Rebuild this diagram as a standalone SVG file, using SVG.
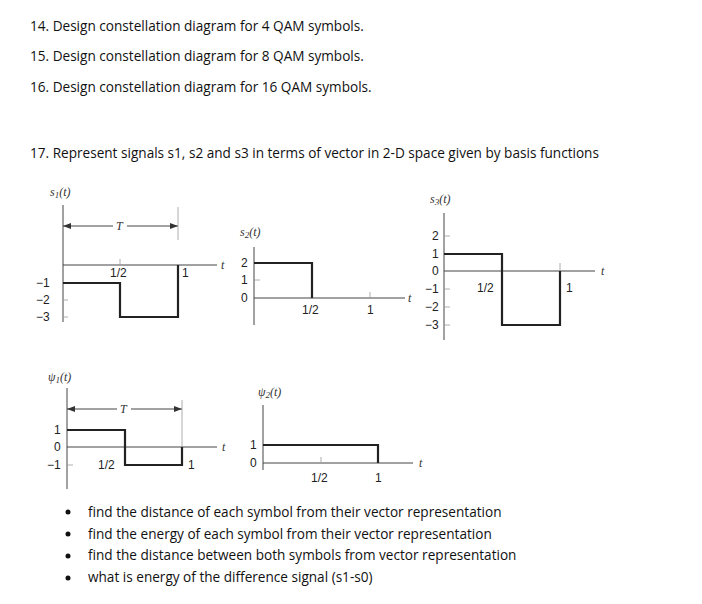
<svg xmlns="http://www.w3.org/2000/svg" width="702" height="604" viewBox="0 0 702 604">
<style>
.t{font-family:"Open Sans","Liberation Sans",sans-serif;font-size:13.6px;fill:#111}
.n{font-family:"Liberation Sans",sans-serif;font-size:12px;fill:#222}
.i{font-family:"Liberation Serif",serif;font-size:12px;font-style:italic;fill:#333}
.ax{stroke:#444;stroke-width:1;fill:none}
.tk{stroke:#999;stroke-width:0.8}
.w{stroke:#222;stroke-width:2.2;fill:none}
</style>
<defs><marker id="a" markerWidth="8" markerHeight="6" refX="8" refY="3" orient="auto-start-reverse"><path d="M0,0L8,3L0,6z" fill="#333"/></marker></defs>
<rect width="702" height="604" fill="#fff"/>
<g id="questions">
<text class="t" x="30" y="31">14. Design constellation diagram for 4 QAM symbols.</text>
<text class="t" x="30" y="61">15. Design constellation diagram for 8 QAM symbols.</text>
<text class="t" x="30" y="92">16. Design constellation diagram for 16 QAM symbols.</text>
<text class="t" x="30" y="158">17. Represent signals s1, s2 and s3 in terms of vector in 2-D space given by basis functions</text>
</g>
<g id="s1">
<text class="i" x="50" y="196">s<tspan font-size="9" dy="2">1</tspan><tspan dy="-2">(t)</tspan></text>
<path class="ax" d="M63,205V322M63,265H217"/>
<path class="ax" d="M63,226H178" marker-start="url(#a)" marker-end="url(#a)"/>
<rect x="113" y="218" width="14" height="12" fill="#fff"/>
<text class="i" x="116" y="230">T</text>
<path class="tk" d="M178,207V240M120,259V265M63,300H68M63,317H68"/>
<path class="w" d="M63,283H120V317H178V265"/>
<text class="n" x="110" y="277">1/2</text><text class="n" x="182" y="277">1</text>
<text class="n" x="36" y="287">−1</text><text class="n" x="36" y="304">−2</text><text class="n" x="36" y="321">−3</text>
<text class="i" x="221" y="269">t</text>
</g>
<g id="s2">
<text class="i" x="240" y="236">s<tspan font-size="9" dy="2">2</tspan><tspan dy="-2">(t)</tspan></text>
<path class="ax" d="M254,247V325M254,298H405"/>
<path class="tk" d="M254,280H260M370,292V298"/>
<path class="w" d="M254,263H312V298"/>
<text class="n" x="241" y="267">2</text><text class="n" x="241" y="284">1</text><text class="n" x="241" y="302">0</text>
<text class="n" x="302" y="314">1/2</text><text class="n" x="367" y="314">1</text>
<text class="i" x="408" y="302">t</text>
</g>
<g id="s3">
<text class="i" x="430" y="203">s<tspan font-size="9" dy="2">3</tspan><tspan dy="-2">(t)</tspan></text>
<path class="ax" d="M444,213V340M444,271H595"/>
<path class="tk" d="M444,236H450M444,289H450M444,307H450M444,325H450M560,263V271"/>
<path class="w" d="M444,254H502V325H560V271"/>
<text class="n" x="432" y="240">2</text><text class="n" x="432" y="258">1</text><text class="n" x="432" y="275">0</text>
<text class="n" x="425" y="293">−1</text><text class="n" x="425" y="311">−2</text><text class="n" x="425" y="329">−3</text>
<text class="n" x="477" y="292">1/2</text><text class="n" x="566" y="292">1</text>
<text class="i" x="601" y="275">t</text>
</g>
<g id="psi1">
<text class="i" x="48" y="381">ψ<tspan font-size="9" dy="2">1</tspan><tspan dy="-2">(t)</tspan></text>
<path class="ax" d="M67,388V489M67,447H217"/>
<path class="ax" d="M67,409H182" marker-start="url(#a)" marker-end="url(#a)"/>
<rect x="117" y="402" width="14" height="12" fill="#fff"/>
<text class="i" x="120" y="413">T</text>
<path class="tk" d="M182,400V460M67,465H73"/>
<path class="w" d="M67,430H125V465H182V447"/>
<text class="n" x="54" y="434">1</text><text class="n" x="54" y="451">0</text><text class="n" x="47" y="469">−1</text>
<text class="n" x="98" y="469">1/2</text><text class="n" x="188" y="469">1</text>
<text class="i" x="222" y="451">t</text>
</g>
<g id="psi2">
<text class="i" x="258" y="396">ψ<tspan font-size="9" dy="2">2</tspan><tspan dy="-2">(t)</tspan></text>
<path class="ax" d="M263,405V470M263,463H413"/>
<path class="tk" d="M321,457V463"/>
<path class="w" d="M263,445H378V463"/>
<text class="n" x="250" y="449">1</text><text class="n" x="250" y="467">0</text>
<text class="n" x="311" y="482">1/2</text><text class="n" x="375" y="482">1</text>
<text class="i" x="419" y="467">t</text>
</g>
<g id="bullets">
<circle cx="68" cy="512" r="2.5" fill="#111"/><text class="t" x="88" y="517">find the distance of each symbol from their vector representation</text>
<circle cx="68" cy="534" r="2.5" fill="#111"/><text class="t" x="88" y="539">find the energy of each symbol from their vector representation</text>
<circle cx="68" cy="556" r="2.5" fill="#111"/><text class="t" x="88" y="560">find the distance between both symbols from vector representation</text>
<circle cx="68" cy="578" r="2.5" fill="#111"/><text class="t" x="88" y="582">what is energy of the difference signal (s1-s0)</text>
</g>
</svg>
